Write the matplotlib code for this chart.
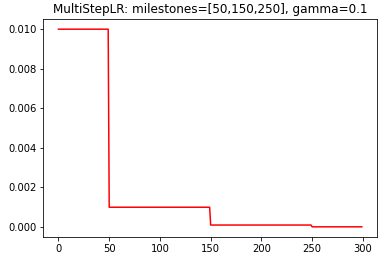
import matplotlib
matplotlib.use('Agg')
import matplotlib.pyplot as plt

# learning rate schedule (epoch, lr)
epochs = [0, 49, 50, 149, 150, 249, 250, 299]
lrs = [0.01, 0.01, 0.001, 0.001, 0.0001, 0.0001, 0.00001, 0.00001]

fig = plt.figure(figsize=(389 / 72, 261 / 72), dpi=72)
ax = fig.add_axes([43.3 / 389, 1 - 236.7 / 261, (377 - 43.3) / 389, (236.7 - 19.3) / 261])

ax.plot(epochs, lrs, color='red')
ax.set_title('MultiStepLR: milestones=[50,150,250], gamma=0.1')
ax.set_xticks([0, 50, 100, 150, 200, 250, 300])
ax.set_yticks([0.0, 0.002, 0.004, 0.006, 0.008, 0.010])
ax.set_yticklabels(['0.000', '0.002', '0.004', '0.006', '0.008', '0.010'])

fig.savefig('out.png', dpi=72)
